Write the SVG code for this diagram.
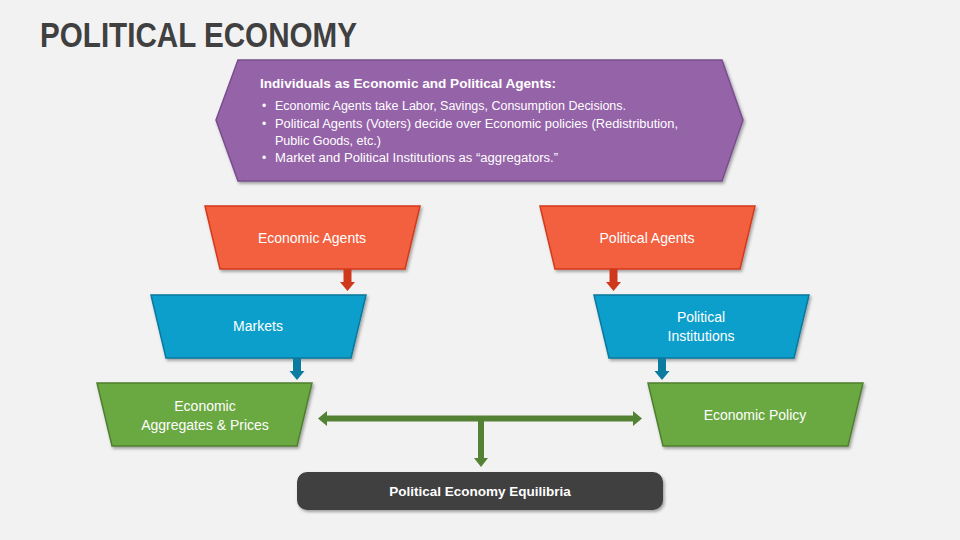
<svg xmlns="http://www.w3.org/2000/svg" width="960" height="540" viewBox="0 0 960 540">
<defs>
<filter id="sh" x="-10%" y="-10%" width="130%" height="140%">
<feDropShadow dx="1.5" dy="2" stdDeviation="1.5" flood-color="#000" flood-opacity="0.35"/>
</filter>
<style>
.t{font-family:"Liberation Sans",Arial,sans-serif;fill:#fff;}
.lbl{font-size:14px;text-anchor:middle;}
.orange{fill:#F26140;stroke:#D23A1A;stroke-width:1.5;}
.blue{fill:#0A9FCB;stroke:#0778A0;stroke-width:1.5;}
.green{fill:#6BA843;stroke:#4F7F2F;stroke-width:1.5;}
.purple{fill:#9564A8;stroke:#7A4D8E;stroke-width:1.5;}
.ra{fill:#D0381C;}
.ba{fill:#0B7BA0;}
.ga{fill:#548235;}
</style>
</defs>
<rect width="960" height="540" fill="#F2F2F2"/>
<text x="40" y="47" font-family="Liberation Sans,Arial,sans-serif" font-weight="bold" font-size="35" fill="#404040" textLength="317" lengthAdjust="spacingAndGlyphs">POLITICAL ECONOMY</text>

<g id="individuals">
<polygon class="purple" filter="url(#sh)" points="238,60 722,60 743,120 722,181 238,181 216,120"/>
<text class="t" x="260" y="88" font-size="13" font-weight="bold" textLength="296" lengthAdjust="spacingAndGlyphs">Individuals as Economic and Political Agents:</text>
<g class="t" font-size="12">
<text x="262" y="110">•</text>
<text x="275" y="110" textLength="351" lengthAdjust="spacingAndGlyphs">Economic Agents take Labor, Savings, Consumption Decisions.</text>
<text x="262" y="128">•</text>
<text x="275" y="128" textLength="403" lengthAdjust="spacingAndGlyphs">Political Agents (Voters) decide over Economic policies (Redistribution,</text>
<text x="275" y="145" textLength="106" lengthAdjust="spacingAndGlyphs">Public Goods, etc.)</text>
<text x="262" y="162">•</text>
<text x="275" y="162" textLength="283" lengthAdjust="spacingAndGlyphs">Market and Political Institutions as “aggregators.”</text>
</g>
</g>

<g id="economic-agents">
<polygon class="orange" filter="url(#sh)" points="205,206 420,206 405,269 220,269"/>
<text class="t lbl" x="312" y="243">Economic Agents</text>
</g>
<g id="political-agents">
<polygon class="orange" filter="url(#sh)" points="540,206 755,206 740,269 555,269"/>
<text class="t lbl" x="647" y="243">Political Agents</text>
</g>
<g id="markets">
<polygon class="blue" filter="url(#sh)" points="151,295 366,295 351,358 166,358"/>
<text class="t lbl" x="258" y="331">Markets</text>
</g>
<g id="political-institutions">
<polygon class="blue" filter="url(#sh)" points="594,295 809,295 794,358 609,358"/>
<text class="t lbl" x="701" y="322">Political</text>
<text class="t lbl" x="701" y="341">Institutions</text>
</g>
<g id="economic-aggregates">
<polygon class="green" filter="url(#sh)" points="97,383 312,383 297,446 112,446"/>
<text class="t lbl" x="205" y="411">Economic</text>
<text class="t lbl" x="205" y="430">Aggregates &amp; Prices</text>
</g>
<g id="economic-policy">
<polygon class="green" filter="url(#sh)" points="648,383 863,383 848,446 663,446"/>
<text class="t lbl" x="755" y="420">Economic Policy</text>
</g>
<g id="equilibria">
<rect x="297" y="472" width="366" height="38" rx="10" fill="#404040" filter="url(#sh)"/>
<text class="t" x="480" y="496" font-size="13.5" font-weight="bold" text-anchor="middle">Political Economy Equilibria</text>
</g>

<g id="connectors">
<polygon class="ra" points="343.5,269 351.5,269 351.5,282 355,282 347.5,291 340,282 343.5,282"/>
<polygon class="ra" points="609.5,269 617.5,269 617.5,282 621,282 613.5,291 606,282 609.5,282"/>
<polygon class="ba" points="293,358 301,358 301,371 304.5,371 297,380 289.5,371 293,371"/>
<polygon class="ba" points="658,358 666,358 666,371 669.5,371 662,380 654.5,371 658,371"/>
<polygon class="ga" points="318,418.5 327,411 327,415.5 633,415.5 633,411 642,418.5 633,426 633,421.5 327,421.5 327,426"/>
<polygon class="ga" points="478,421 484,421 484,458 488,458 481,467 474,458 478,458"/>
</g>
</svg>
